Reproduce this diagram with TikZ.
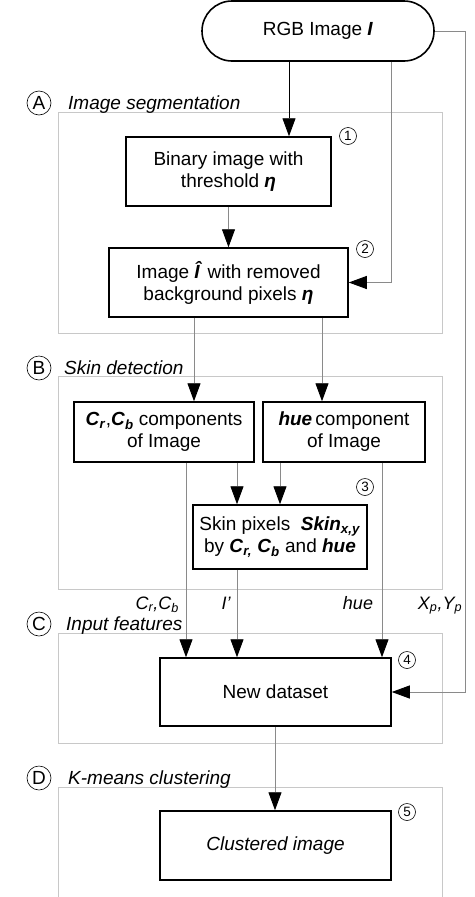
\documentclass[tikz,border=0pt]{standalone}
\usepackage{fontspec}
\setmainfont{Liberation Sans}
\usetikzlibrary{arrows.meta,calc}
\definecolor{grp}{HTML}{C8C8C8}
\definecolor{lin}{HTML}{8A8A8A}
\newcommand{\bi}[1]{\textbf{\textit{#1}}}
\begin{document}
\begin{tikzpicture}[x=1pt,y=-1pt,
  txt/.style={font=\fontsize{19}{22}\selectfont},
  box/.style={draw=black,line width=1.5pt,fill=white,align=center,inner sep=0pt,txt},
  grpbox/.style={draw=grp,line width=1pt},
  grplabel/.style={anchor=base west,inner sep=0pt,font=\fontsize{19}{22}\selectfont\itshape},
  grpcirc/.style={draw=black,circle,line width=0.6pt,minimum size=24pt,inner sep=0pt,font=\fontsize{19}{22}\selectfont},
  numcirc/.style={draw=black,circle,line width=0.6pt,minimum size=17pt,inner sep=0pt,font=\fontsize{13.5}{15}\selectfont},
  conn/.style={draw=lin,line width=0.9pt,-{Triangle[width=13pt,length=18pt,color=black,fill=black]}},
  lab/.style={inner sep=0pt,anchor=base,font=\fontsize{18}{20}\selectfont\itshape}
]
\useasboundingbox (0,0) rectangle (474,897);
\fill[white] (0,0) rectangle (474,897);

% group rectangles
\draw[grpbox] (58,112) rectangle (442,333);
\draw[grpbox] (58,376) rectangle (442,589);
\draw[grpbox] (58,633) rectangle (442,743);
\draw[grpbox] (58,905) -- (58,787) -- (442,787) -- (442,905);

% group labels
\node[grpcirc] (ga) at (39,103) {A};
\node[grplabel] (gat) at (68,109) {Image segmentation};
\node[grpcirc] (gb) at (39,368) {B};
\node[grplabel] (gbt) at (64,374) {Skin detection};
\node[grpcirc] (gc) at (39,624) {C};
\node[grplabel] (gct) at (66,630) {Input features};
\node[grpcirc] (gd) at (39,778) {D};
\node[grplabel] (gdt) at (68,784) {K-means clustering};

% nodes
\node[draw=black,line width=1.6pt,fill=white,rounded corners=30pt,minimum width=232pt,minimum height=60pt,inner sep=0pt,txt] (rgb) at (318,31) {RGB Image \bi{I}};
\node[box,minimum width=205pt,minimum height=69pt] (b1) at (228.5,171.5) {Binary image with\\threshold \bi{η}};
\node[box,minimum width=239pt,minimum height=69pt] (b2) at (228.5,282.5) {Image \bi{Î} with removed\\background pixels \bi{η}};
\node[box,minimum width=180pt,minimum height=60pt] (b3) at (164,432) {\bi{C}\textsubscript{\bi{r}},\bi{C}\textsubscript{\bi{b}} components\\of Image};
\node[box,minimum width=162pt,minimum height=60pt] (b4) at (344,432) {\bi{hue}\,component\\of Image};
\node[box,minimum width=174pt,minimum height=64pt] (b5) at (280,537) {Skin pixels\ \ \bi{Skin}\textsubscript{\bi{x,y}}\\by \bi{C}\textsubscript{\bi{r,}} \bi{C}\textsubscript{\bi{b}} and \bi{hue}};
\node[box,minimum width=231pt,minimum height=68pt] (nd) at (275.5,692) {New dataset};
\node[box,minimum width=231pt,minimum height=69pt] (cl) at (275.5,845.5) {\textit{Clustered image}};

% numbers
\node[numcirc] (n1) at (348,136) {1};
\node[numcirc] (n2) at (365,249) {2};
\node[numcirc] (n3) at (365,487) {3};
\node[numcirc] (n4) at (407,660) {4};
\node[numcirc] (n5) at (407,812) {5};

% helper x coordinates
\coordinate (x289) at (289,0);
\coordinate (x194) at (194,0);
\coordinate (x322) at (322,0);
\coordinate (x237) at (237,0);
\coordinate (x280) at (280,0);
\coordinate (x186) at (186,0);
\coordinate (x382) at (382,0);
\coordinate (x275) at (275,0);
\coordinate (x391) at (391,0);
\coordinate (x465) at (465,0);

% connectors
\draw[conn,draw=black] (rgb.south -| x289) -- (b1.north -| x289);
\draw[conn] (b1.south) -- (b2.north);
\draw[conn] (rgb.south -| x391) |- (b2.east);
\draw[conn] (b2.south -| x194) -- (b3.north -| x194);
\draw[conn] (b2.south -| x322) -- (b4.north -| x322);
\draw[conn] (b3.south -| x237) -- (b5.north -| x237);
\draw[conn] (b4.south -| x280) -- (b5.north -| x280);
\draw[conn] (b3.south -| x186) -- (nd.north -| x186);
\draw[conn] (b5.south -| x237) -- (nd.north -| x237);
\draw[conn] (b4.south -| x382) -- (nd.north -| x382);
\draw[conn] (rgb.east) -- (rgb.east -| x465) |- (nd.east);
\draw[conn] (nd.south -| x275) -- (cl.north -| x275);

% connector labels
\node[lab,anchor=base east] (lcr) at (179,609) {C\textsubscript{r},C\textsubscript{b}};
\node[lab] (li) at (226,609) {I’};
\node[lab] (lhue) at (358,609) {hue};
\node[lab] (lxy) at (440,609) {X\textsubscript{p},Y\textsubscript{p}};
\end{tikzpicture}
\end{document}
